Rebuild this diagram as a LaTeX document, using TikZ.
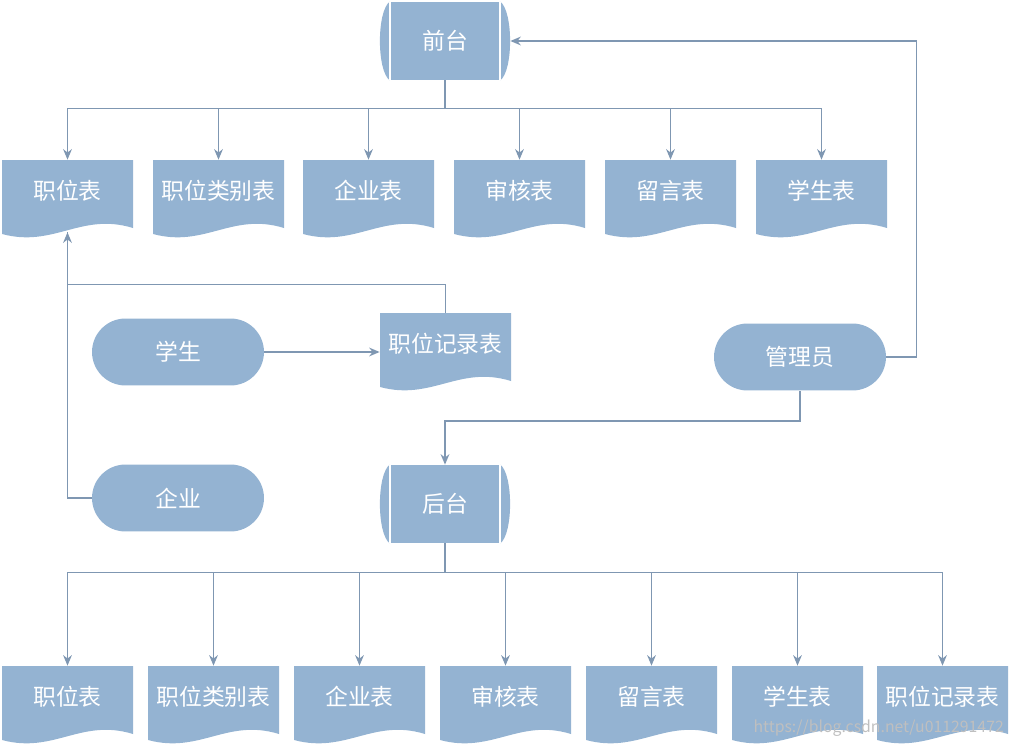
\documentclass[tikz,border=0pt]{standalone}
\usepackage{fontspec}
\setmainfont{Noto Sans CJK SC}
\usetikzlibrary{shapes.misc,arrows.meta}
\definecolor{boxblue}{HTML}{94B3D2}
\definecolor{linegray}{HTML}{7F97B2}
\tikzset{
	link/.style={draw=linegray,line width=0.8pt},
	arr/.style={link,-{Stealth[length=6pt,width=5pt]}},
	wlabel/.style={text=white,font=\fontsize{13}{15}\selectfont},
	person/.style={rounded rectangle,fill=boxblue,wlabel,minimum width=3.44cm,minimum height=1.34cm,inner xsep=0pt},
	docbox/.style={wlabel,minimum width=2.62cm,minimum height=1.44cm,inner sep=0pt},
	store/.style={fill=boxblue,wlabel,minimum width=2.2cm,minimum height=1.56cm},
}
% document with wavy bottom: name, left, top, text
\newcommand{\docnode}[4]{%
	\begin{scope}[shift={(#2,#3)}]
		\fill[boxblue] (0,0) -- (131,0) -- (131,68) .. controls (79,52) and (52,88) .. (0,74) -- cycle;
		\node[docbox] (#1) at (65.5,36) {\raisebox{2.5mm}{#4}};
	\end{scope}}
% storage with bulging sides: name, centre x, centre y, text
\newcommand{\storenode}[4]{%
	\node[store] (#1) at (#2,#3) {#4};
	\fill[boxblue] (#1.north west) .. controls +(-13,10) and +(-13,-10) .. (#1.south west) -- cycle;
	\fill[boxblue] (#1.north east) .. controls +(13,10) and +(13,-10) .. (#1.south east) -- cycle;
	\draw[white,line width=1pt] (#1.north west) -- (#1.south west) (#1.north east) -- (#1.south east);}

\begin{document}
\begin{tikzpicture}[x=0.02cm,y=-0.02cm]
	\useasboundingbox (0,0) rectangle (1015,747);
	
	\storenode{qt}{445}{41}{前台}
	\docnode{t1}{2}{160}{职位表}
	\docnode{t2}{153}{160}{职位类别表}
	\docnode{t3}{303}{160}{企业表}
	\docnode{t4}{454}{160}{审核表}
	\docnode{t5}{605}{160}{留言表}
	\docnode{t6}{756}{160}{学生表}
	\foreach \t in {t1,t2,t3,t4,t5,t6}
		\draw[arr] (qt.south) -- ++(0,28) -| (\t.north);
	
	\node[person] (xs) at (178,352) {学生};
	\node[person] (qy) at (178,498) {企业};
	\node[person] (gl) at (800,357) {管理员};
	\docnode{r}{380}{313}{职位记录表}
	\draw[arr] (r.north) -- ++(0,-28) -| (t1.south);
	\draw[link] (qy.west) -| (t1.south);
	\draw[arr] (xs.east) -- (xs.east -| r.west);
	\draw[arr] (gl.east) -- ++(30,0) |- ([xshift=0.2cm]qt.east);
	
	\storenode{ht}{445}{504}{后台}
	\draw[arr] (gl.south) -- ++(0,30) -| (ht.north);
	\docnode{b1}{2}{666}{职位表}
	\docnode{b2}{148}{666}{职位类别表}
	\docnode{b3}{294}{666}{企业表}
	\docnode{b4}{440}{666}{审核表}
	\docnode{b5}{586}{666}{留言表}
	\docnode{b6}{732}{666}{学生表}
	\docnode{b7}{877}{666}{职位记录表}
	\foreach \b in {b1,b2,b3,b4,b5,b6,b7}
		\draw[arr] (ht.south) -- ++(0,29) -| (\b.north);
	
	\node[anchor=east,text=gray!50,font=\fontsize{9}{10}\selectfont] (wm) at (1010,728) {https://blog.csdn.net/u011291472};
\end{tikzpicture}
\end{document}
